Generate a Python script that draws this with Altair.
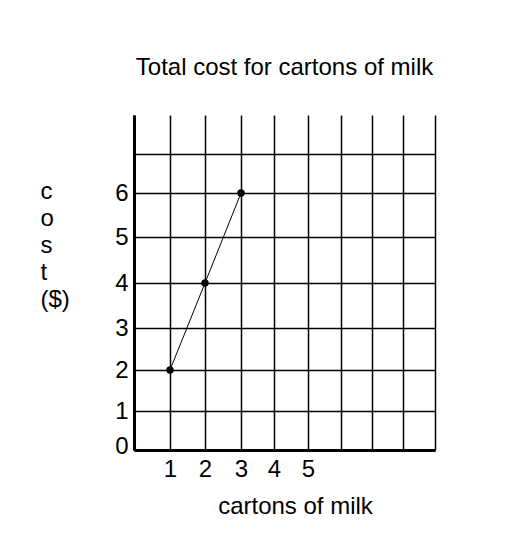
import altair as alt
import pandas as pd

# Data
cartons = [1, 2, 3]
cost = [2, 4, 6]

# Grid / tick values (data units)
x_grid = [0, 1, 2, 3, 4, 5, 6, 7, 8, 9]
y_grid = [0, 1, 2, 3, 4, 5, 6, 7]

df = pd.DataFrame({"cartons": cartons, "cost": cost})

FONT = "Liberation Sans"
FS = 24

# the hand-drawn grid is slightly irregular: piecewise scales reproduce it
x_scale = alt.Scale(domain=list(range(10)),
                    range=[0, 36, 71, 107, 140, 174, 207, 238, 269, 301])
y_scale = alt.Scale(domain=list(range(9)),
                    range=[335, 296, 255, 213, 168, 122, 78, 39, 0])

x_enc = alt.X(
    "cartons:Q",
    scale=x_scale,
    axis=alt.Axis(
        values=x_grid,
        labelExpr="datum.value >= 1 && datum.value <= 5 ? datum.value : ''",
        ticks=False,
        tickSize=0,
        labelPadding=7,
        labelFontSize=FS,
        labelFont=FONT,
        labelColor="black",
        title="cartons of milk",
        titleFont=FONT,
        titleFontSize=FS,
        titleFontWeight="normal",
        titleColor="black",
        titleX=161,
        titleY=63,
        titleAlign="center",
        titleBaseline="alphabetic",
    ),
)

y_enc = alt.Y(
    "cost:Q",
    scale=y_scale,
    axis=alt.Axis(
        values=y_grid,
        labelExpr="datum.value <= 6 ? datum.value : ''",
        ticks=False,
        tickSize=0,
        labelPadding=6,
        labelFontSize=FS,
        labelFont=FONT,
        labelColor="black",
        labelFlush=True,
        labelFlushOffset=8,
        title=["c", "o", "s", "t", "($)"],
        titleFont=FONT,
        titleFontSize=FS,
        titleFontWeight="normal",
        titleColor="black",
        titleAngle=0,
        titleAlign="left",
        titleBaseline="alphabetic",
        titleLineHeight=27,
        titleX=-94,
        titleY=83,
    ),
)

base = alt.Chart(df).encode(x=x_enc, y=y_enc)

line = base.mark_line(color="black", strokeWidth=1)
points = base.mark_point(filled=True, color="black", size=55, opacity=1)

chart = (
    alt.layer(line, points)
    .properties(
        width=301,
        height=335,
        title=alt.TitleParams(
            "Total cost for cartons of milk",
            font=FONT,
            fontSize=FS,
            fontWeight="normal",
            color="black",
            anchor="middle",
            baseline="alphabetic",
            offset=16,
        ),
        autosize=alt.AutoSizeParams(type="none"),
        padding={"left": 126, "top": 107, "right": 60, "bottom": 75},
    )
    .configure_axis(
        grid=True,
        gridColor="black",
        gridWidth=1.5,
        gridOpacity=1,
        domainColor="black",
        domainWidth=3,
    )
    .configure_view(strokeWidth=0)
)

chart.save("out.html", embed_options={"renderer": "svg", "actions": False})
